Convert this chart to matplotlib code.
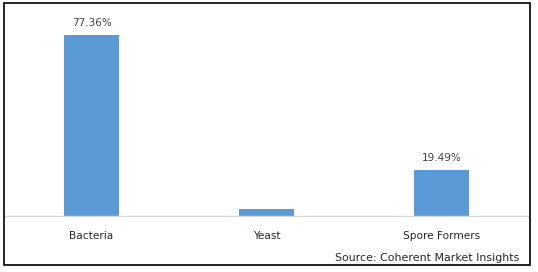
import matplotlib.pyplot as plt
from matplotlib.patches import Rectangle

categories = ['Bacteria', 'Yeast', 'Spore Formers']
shares = [77.36, 3.15, 19.49]
value_labels = ['77.36%', '', '19.49%']

W, H = 538, 272
fig = plt.figure(figsize=(W / 100, H / 100), dpi=100)

# axes area in pixels: x 4..529, y 5..216 (from top)
ax = fig.add_axes([4 / W, (H - 216) / H, 525 / W, 211 / H])
ax.bar(range(len(categories)), shares, width=0.313, color='#5B9BD5', zorder=2)
ax.set_xlim(-0.5, 2.5)
ax.set_ylim(0, 90)

for i, (v, lab) in enumerate(zip(shares, value_labels)):
    if lab:
        ax.annotate(lab, (i, v), xytext=(0, 5), textcoords='offset points',
                    ha='center', va='bottom', fontsize=7.5, color='#404040')

ax.set_xticks(range(len(categories)))
ax.set_xticklabels(categories, fontsize=7.6, color='#262626')
ax.tick_params(axis='x', length=0, pad=10.5)
ax.set_yticks([])
for side in ['top', 'right', 'left']:
    ax.spines[side].set_visible(False)
ax.spines['bottom'].set_color('#D9D9D9')
ax.spines['bottom'].set_linewidth(1)

fig.text(519 / W, 1 - 258 / H, 'Source: Coherent Market Insights',
         ha='right', va='center', fontsize=7.9, color='#262626')

fig.patches.append(Rectangle((3.5 / W, 1 - 265 / H), 526 / W, 262 / H,
                             transform=fig.transFigure, fill=False,
                             edgecolor='black', linewidth=1.2))

fig.savefig('out.png', dpi=100)
